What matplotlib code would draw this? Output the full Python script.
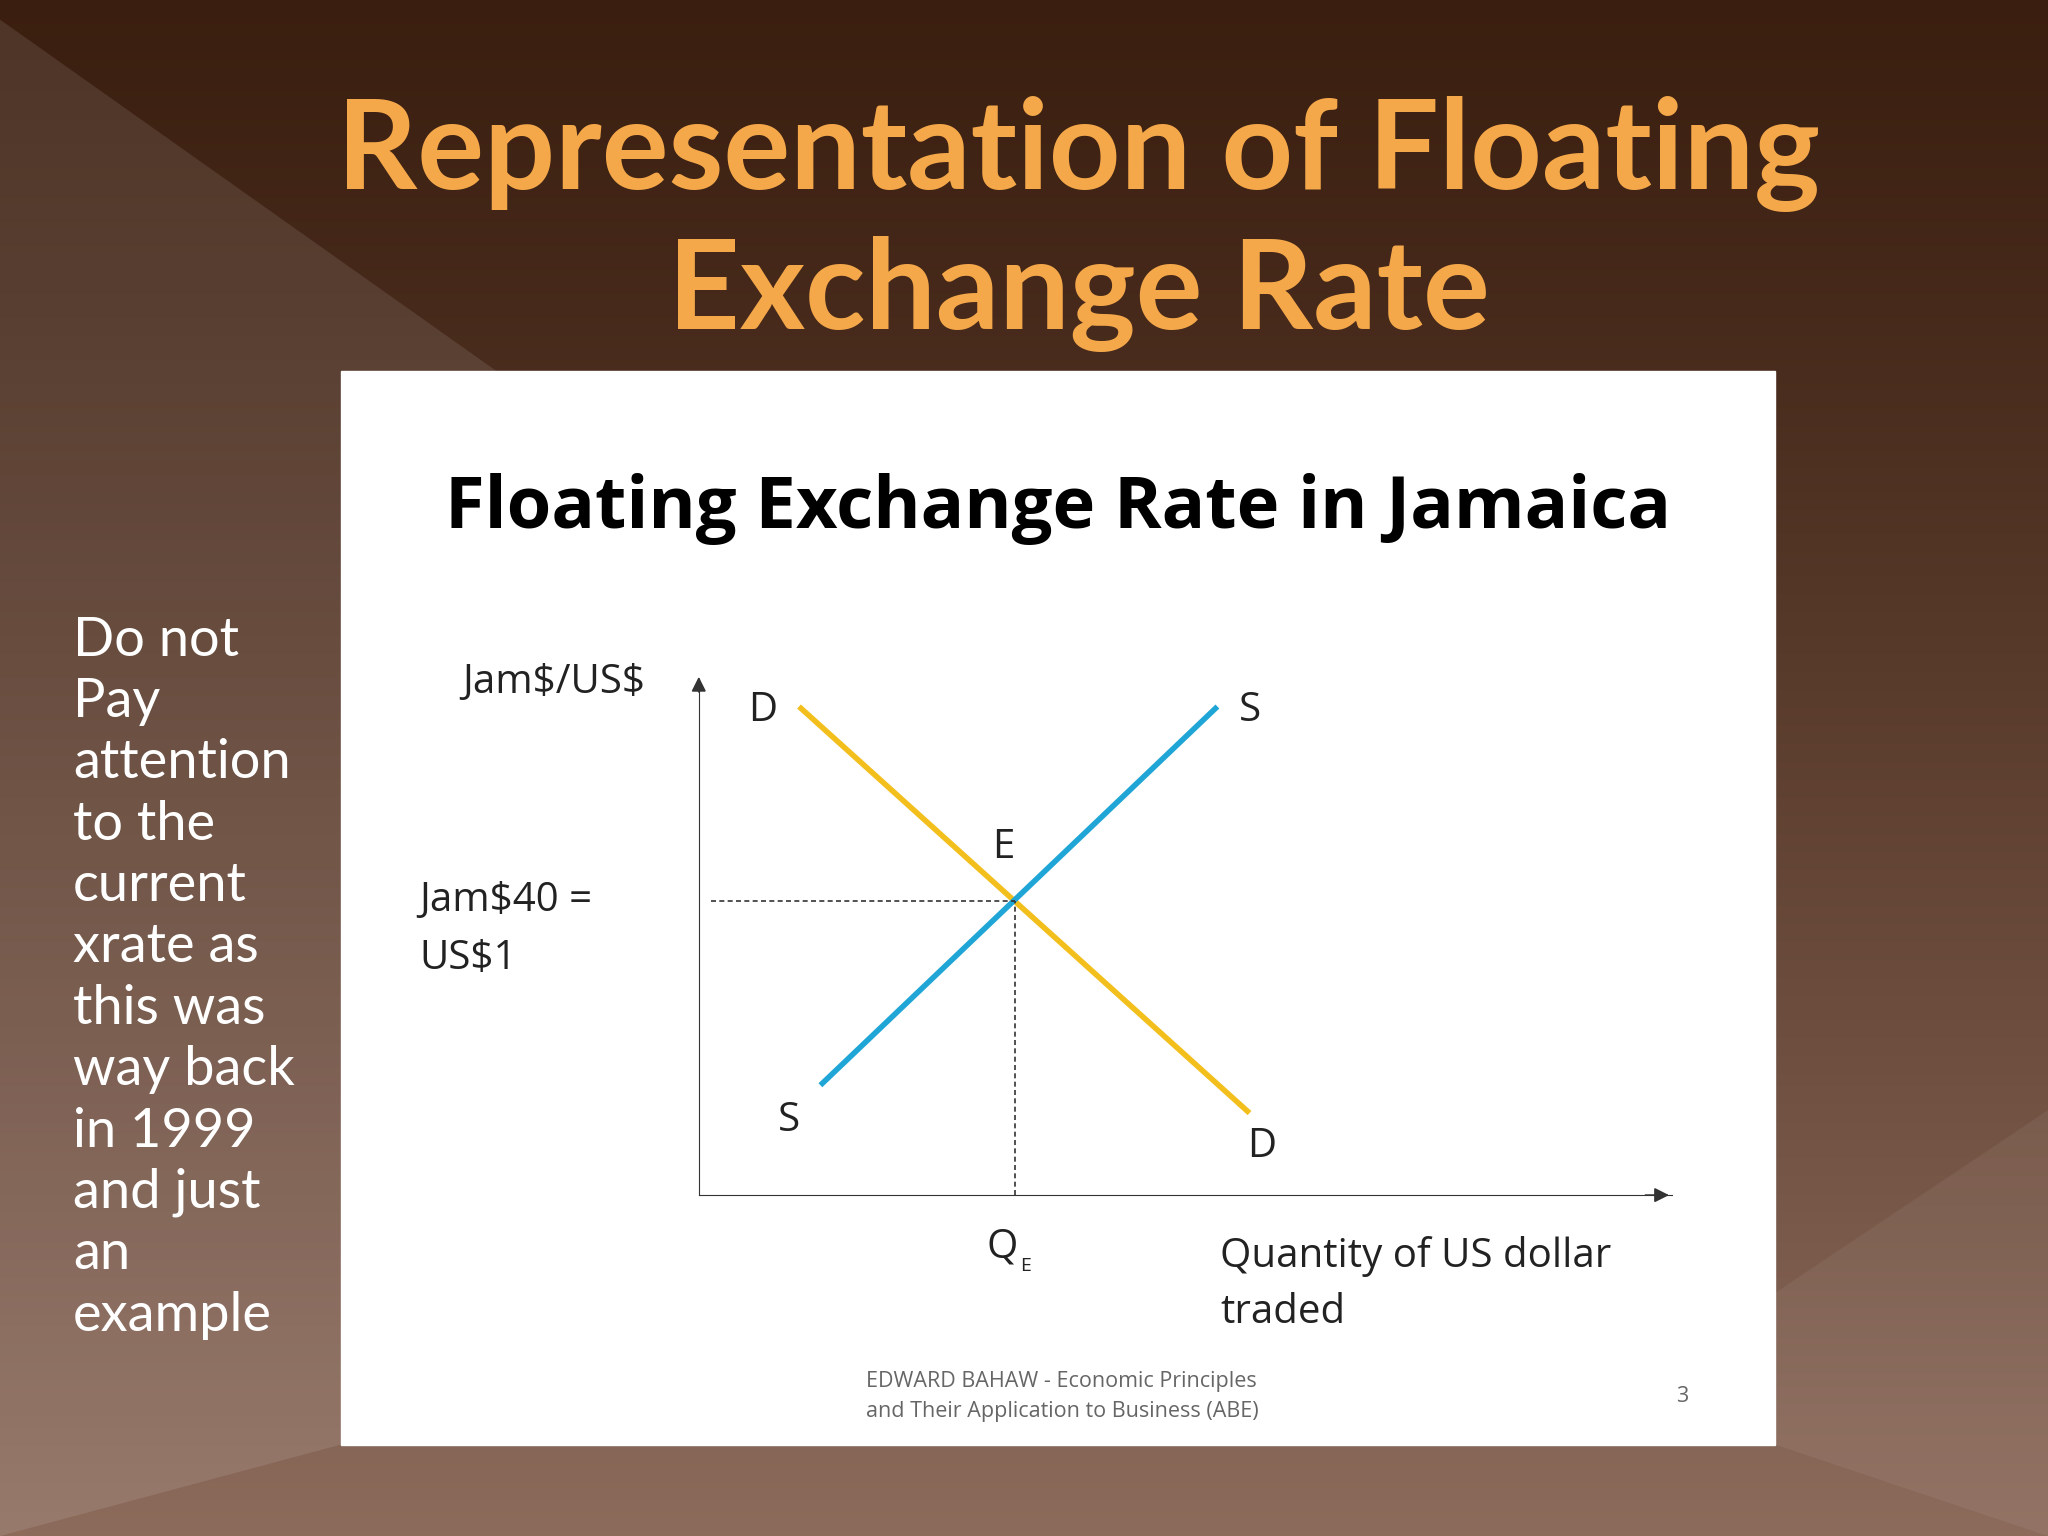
import numpy as np
import matplotlib.pyplot as plt
from matplotlib.patches import Polygon, Rectangle

W, H = 1568, 1176  # layout reference grid

demand_q = [10.3, 56.6]
demand_p = [94.7, 15.9]
supply_q = [12.5, 53.3]
supply_p = [21.3, 94.7]
eq_q, eq_p = 32.5, 57.0

side_note = ["Do not", "Pay", "attention", "to the", "current", "xrate as",
             "this was", "way back", "in 1999", "and just", "an", "example"]


def fx(px):
    return px / W


def fy(py):
    return 1 - py / H


fig = plt.figure(figsize=(20.48, 15.36), dpi=100)

# background gradient
bg = fig.add_axes([0, 0, 1, 1])
bg.set_xlim(0, W)
bg.set_ylim(H, 0)
bg.axis("off")
t = np.linspace(0, 1, 256)[:, None]
top = np.array([0.23, 0.12, 0.06])
bot = np.array([0.55, 0.42, 0.36])
grad = top + (bot - top) * t[..., None] ** 1.2
grad = np.repeat(grad, 4, axis=1)
bg.imshow(grad, extent=[0, W, H, 0], aspect="auto", zorder=0)
bg.add_patch(Polygon([[0, 15], [380, 284], [261, 284], [261, 1106], [0, 1176]],
                     closed=True, color="white", alpha=0.10, lw=0, zorder=1))
bg.add_patch(Polygon([[1359, 990], [1568, 850], [1568, 1176], [1359, 1106]],
                     closed=True, color="white", alpha=0.06, lw=0, zorder=1))
bg.add_patch(Rectangle((261, 284), 1098, 822, color="white", zorder=2))

fig.text(fx(826), fy(118), "Representation of Floating", ha="center", va="center",
         fontsize=90, fontweight="bold", color="#f5a84a", family="Lato")
fig.text(fx(826), fy(225), "Exchange Rate", ha="center", va="center",
         fontsize=90, fontweight="bold", color="#f5a84a", family="Lato")

for i, line in enumerate(side_note):
    fig.text(fx(56), fy(490 + i * 47), line, ha="left", va="center",
             fontsize=39, color="white", family="Lato")

fig.text(fx(810), fy(390), "Floating Exchange Rate in Jamaica", ha="center", va="center",
         fontsize=52, fontweight="bold", color="black", family="Open Sans")

# chart axes: x 535-1280, y 520-915 (ref grid)
ax = fig.add_axes([fx(535), fy(915), fx(1280 - 535), fy(520) - fy(915)])
ax.set_xlim(0, 100)
ax.set_ylim(0, 100)
for s in ["top", "right"]:
    ax.spines[s].set_visible(False)
ax.spines["left"].set_color("#333333")
ax.spines["bottom"].set_color("#333333")
ax.set_xticks([])
ax.set_yticks([])
ax.patch.set_alpha(0)
ax.annotate("", xy=(100, 0), xytext=(97, 0),
            arrowprops=dict(arrowstyle="-|>", color="#333333", lw=1.2, mutation_scale=22),
            annotation_clip=False)
ax.annotate("", xy=(0, 101), xytext=(0, 97),
            arrowprops=dict(arrowstyle="-|>", color="#333333", lw=1.2, mutation_scale=22),
            annotation_clip=False)

ax.plot(demand_q, demand_p, color="#f2bf1c", lw=4, solid_capstyle="butt")
ax.plot(supply_q, supply_p, color="#1fa6d6", lw=4, solid_capstyle="butt")
ax.plot([1.3, eq_q], [eq_p, eq_p], color="#333333", lw=1.2, ls=(0, (3, 2)))
ax.plot([eq_q, eq_q], [0, eq_p], color="#333333", lw=1.2, ls=(0, (3, 2)))

lab = dict(fontsize=29, color="#222222", family="Open Sans", va="center", parse_math=False)
fig.text(fx(584), fy(544), "D", ha="center", **lab)
fig.text(fx(957), fy(544), "S", ha="center", **lab)
fig.text(fx(768), fy(649), "E", ha="center", **lab)
fig.text(fx(604), fy(858), "S", ha="center", **lab)
fig.text(fx(966), fy(878), "D", ha="center", **lab)
fig.text(fx(424), fy(523), "Jam$/US$", ha="center", **lab)
fig.text(fx(321), fy(690), "Jam$40 =", ha="left", **lab)
fig.text(fx(321), fy(734), "US$1", ha="left", **lab)
fig.text(fx(934), fy(962), "Quantity of US dollar", ha="left", **lab)
fig.text(fx(934), fy(1005), "traded", ha="left", **lab)
fig.text(fx(767), fy(955), "Q", ha="center", **lab)
fig.text(fx(785), fy(969), "E", ha="center", fontsize=14, color="#222222", va="center",
         family="Open Sans")

foot = dict(fontsize=15.5, color="#666666", family="Open Sans", va="center")
fig.text(fx(663), fy(1058), "EDWARD BAHAW - Economic Principles", ha="left", **foot)
fig.text(fx(663), fy(1081), "and Their Application to Business (ABE)", ha="left", **foot)
fig.text(fx(1288), fy(1069), "3", ha="center", **foot)

fig.savefig("out.png", dpi=100)
